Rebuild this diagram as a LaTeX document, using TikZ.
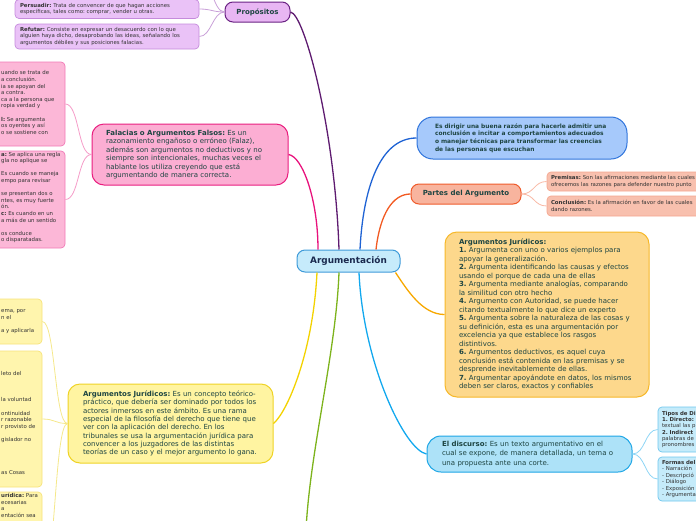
\documentclass[tikz,border=0pt]{standalone}
\usepackage{fontspec}
\setmainfont{DejaVu Sans}
\usetikzlibrary{arrows, positioning}
\frenchspacing

\definecolor{hubFill}{HTML}{C6EBFB}
\definecolor{hubLine}{HTML}{3E9BD9}
\definecolor{hubText}{HTML}{1B2A4F}
\definecolor{topicText}{HTML}{1E4542}
\definecolor{leafText}{HTML}{333333}
\definecolor{propFill}{HTML}{E8B6F3}
\definecolor{propLine}{HTML}{6A2283}
\definecolor{propRama}{HTML}{5E1B70}
\definecolor{lilaFill}{HTML}{EAC2F7}
\definecolor{lilaLine}{HTML}{C58BDC}
\definecolor{lilaRama}{HTML}{C9A0D8}
\definecolor{falFill}{HTML}{FCAED3}
\definecolor{falLine}{HTML}{E91E7F}
\definecolor{falRama}{HTML}{E8127C}
\definecolor{rosaFill}{HTML}{FCB7D7}
\definecolor{rosaLine}{HTML}{F17AB7}
\definecolor{rosaRama}{HTML}{F59CC8}
\definecolor{azulFill}{HTML}{A6C9FB}
\definecolor{azulLine}{HTML}{2F74DC}
\definecolor{azulRama}{HTML}{1F63D4}
\definecolor{partFill}{HTML}{F8B49E}
\definecolor{partLine}{HTML}{EF5B2B}
\definecolor{partRama}{HTML}{F25A22}
\definecolor{salmFill}{HTML}{F8C0AE}
\definecolor{salmLine}{HTML}{F5A68F}
\definecolor{salmRama}{HTML}{F8B8A5}
\definecolor{juriFill}{HTML}{FDD88C}
\definecolor{juriLine}{HTML}{F6B82A}
\definecolor{juriRama}{HTML}{F7A800}
\definecolor{discFill}{HTML}{ADE2F8}
\definecolor{discLine}{HTML}{1EA6E6}
\definecolor{discRama}{HTML}{12A8EE}
\definecolor{celeFill}{HTML}{C5EBFA}
\definecolor{celeLine}{HTML}{6FC7EE}
\definecolor{celeRama}{HTML}{8ED5F5}
\definecolor{amarFill}{HTML}{FFF4A1}
\definecolor{amarLine}{HTML}{EFD325}
\definecolor{amarRama}{HTML}{F3D200}
\definecolor{cremaFill}{HTML}{FFF5AD}
\definecolor{cremaLine}{HTML}{F7E37A}
\definecolor{cremaRama}{HTML}{F5E88A}
\definecolor{verdeRama}{HTML}{7DB31C}

\begin{document}
\begin{tikzpicture}[x=1pt,y=-1pt]
	\tikzstyle{hub} = [rectangle, rounded corners=8pt, draw=hubLine, fill=hubFill, line width=1pt, minimum width=103pt, minimum height=22pt, text=hubText, font=\fontsize{8.9}{10}\selectfont\bfseries]
	\tikzstyle{title} = [rectangle, rounded corners=8pt, line width=1pt, inner sep=0pt, text=topicText, font=\fontsize{7}{8}\selectfont\bfseries]
	\tikzstyle{topic} = [rectangle, rounded corners=12pt, line width=1pt, align=left, inner sep=0pt, text=topicText, font=\fontsize{7}{8.4}\selectfont]
	\tikzstyle{leaf} = [rectangle, rounded corners=4pt, line width=0.7pt, align=left, inner sep=0pt, text=leafText, font=\fontsize{5.4}{6.6}\selectfont]
	\tikzstyle{cut} = [inner sep=0pt, align=left, anchor=west, text=leafText, font=\fontsize{5.4}{6.6}\selectfont]
	\tikzstyle{branch} = [line width=1.3pt]
	\tikzstyle{twig} = [line width=0.8pt]

	\useasboundingbox (0,0) rectangle (696,520);
	\clip (0,0) rectangle (696,520);

	% centro
	\node (arg) [hub] at (348.5,261) {Argumentación};

	% propositos
	\node (prop) [title, fill=propFill, draw=propLine, minimum width=65pt, minimum height=20pt] at (257.5,12) {Propósitos};
	\node (pers) [leaf, fill=lilaFill, draw=lilaLine, minimum width=184pt, minimum height=19pt, text width=174pt] at (107,9) {\textbf{Persuadir:} Trata de convencer de que hagan acciones\\específicas, tales como: comprar, vender u otras.};
	\node (refu) [leaf, fill=lilaFill, draw=lilaLine, minimum width=184pt, minimum height=25pt, text width=174pt] at (107,36.5) {\textbf{Refutar:} Consiste en expresar un desacuerdo con lo que\\alguien haya dicho, desaprobando las ideas, señalando los\\argumentos débiles y sus posiciones falacias.};
	\coordinate (pHid) at (199,-25);

	% falacias
	\node (fal) [topic, fill=falFill, draw=falLine, minimum width=196pt, minimum height=61pt, text width=168pt] at (190,154.5) {\textbf{Falacias o Argumentos Falsos:} Es un\\razonamiento engañoso o erróneo (Falaz),\\además son argumentos no deductivos y no\\siempre son intencionales, muchas veces el\\hablante los utiliza creyendo que está\\argumentando de manera correcta.};
	\node (falA) [leaf, fill=rosaFill, draw=rosaLine, minimum width=75pt, minimum height=84pt] at (27.5,104) {};
	\node (falAt) [cut] at (1,102.5) {uando se trata de\\a conclusión.\\ia se apoyan del\\a contra.\\ca a la persona que\\ropia verdad y\\[6.6pt]\textbf{l:} Se argumenta\\os oyentes y así\\o se sostiene con};
	\node (falB) [leaf, fill=rosaFill, draw=rosaLine, minimum width=75pt, minimum height=97pt] at (27.5,199.5) {};
	\node (falBt) [cut] at (1,197.5) {\textbf{a:} Se aplica una regla\\gla no aplique se\\[6.6pt]Es cuando se maneja\\empo para revisar\\[6.6pt]se presentan dos o\\ntes, es muy fuerte\\ón.\\\textbf{c:} Es cuando en un\\a más de un sentido\\[6.6pt]os conduce\\o disparatadas.};

	% definicion
	\node (def) [topic, rounded corners=16pt, fill=azulFill, draw=azulLine, minimum width=210pt, minimum height=42pt, text width=174pt, font=\fontsize{5.9}{7.7}\selectfont\bfseries] at (522,138) {Es dirigir una buena razón para hacerle admitir una\\conclusión e incitar a comportamientos adecuados\\o manejar técnicas para transformar las creencias\\de las personas que escuchan};

	% partes
	\node (part) [title, fill=partFill, draw=partLine, minimum width=110pt, minimum height=20pt] at (466,194) {Partes del Argumento};
	\node (prem) [leaf, fill=salmFill, draw=salmLine, minimum width=178pt, minimum height=19pt, text width=170pt] at (636,181.5) {\textbf{Premisas:} Son las afirmaciones mediante las cuales\\ofrecemos las razones para defender nuestro punto};
	\node (conc) [leaf, fill=salmFill, draw=salmLine, minimum width=178pt, minimum height=20pt, text width=170pt] at (636,206) {\textbf{Conclusión:} Es la afirmación en favor de las cuales\\dando razones.};

	% argumentos juridicos (tipos)
	\node (juriR) [topic, fill=juriFill, draw=juriLine, minimum width=204pt, minimum height=165pt, text width=176pt, font=\fontsize{7}{8.5}\selectfont] at (547,314.5) {\textbf{Argumentos Jurídicos:}\\\textbf{1.} Argumenta con uno o varios ejemplos para\\apoyar la generalización.\\\textbf{2.} Argumenta identificando las causas y efectos\\usando el porque de cada una de ellas\\\textbf{3.} Argumenta mediante analogías, comparando\\la similitud con otro hecho\\\textbf{4.} Argumento con Autoridad, se puede hacer\\citando textualmente lo que dice un experto\\\textbf{5.} Argumenta sobre la naturaleza de las cosas y\\su definición, esta es una argumentación por\\excelencia ya que establece los rasgos\\distintivos.\\\textbf{6.} Argumentos deductivos, es aquel cuya\\conclusión está contenida en las premisas y se\\desprende inevitablemente de ellas.\\\textbf{7.} Argumentar apoyándote en datos, los mismos\\deben ser claros, exactos y confiables};

	% discurso
	\node (disc) [topic, rounded corners=14pt, fill=discFill, draw=discLine, minimum width=205pt, minimum height=36pt, text width=175pt, font=\fontsize{7}{9.5}\selectfont] at (529.5,454) {\textbf{El discurso:} Es un texto argumentativo en el\\cual se expone, de manera detallada, un tema o\\una propuesta ante una corte.};
	\node (tipo) [leaf, fill=celeFill, draw=celeLine, minimum width=72pt, minimum height=45pt, text width=64pt, font=\fontsize{5.4}{6.3}\selectfont] at (694,429.5) {\textbf{Tipos de Di}\\\textbf{1. Directo:}\\textual las p\\\textbf{2. Indirect}\\palabras de\\pronombres};
	\node (form) [leaf, fill=celeFill, draw=celeLine, minimum width=72pt, minimum height=44pt, text width=64pt, font=\fontsize{5.4}{6.4}\selectfont] at (694,479) {\textbf{Formas del}\\- Narración\\- Descripció\\- Diálogo\\- Exposición\\- Argumenta};

	% argumentos juridicos (concepto)
	\node (juriL) [topic, fill=amarFill, draw=amarLine, minimum width=205pt, minimum height=79pt, text width=175pt, font=\fontsize{7}{8.3}\selectfont] at (170.5,423.5) {\textbf{Argumentos Jurídicos:} Es un concepto teórico-\\práctico, que debería ser dominado por todos los\\actores inmersos en este ámbito. Es una rama\\especial de la filosofía del derecho que tiene que\\ver con la aplicación del derecho. En los\\tribunales se usa la argumentación jurídica para\\convencer a los juzgadores de las distintas\\teorías de un caso y el mejor argumento lo gana.};
	\node (yC) [leaf, fill=cremaFill, draw=cremaLine, minimum width=52pt, minimum height=45pt] at (16,321.5) {};
	\node (yCt) [cut] at (1,321.5) {ema, por\\n el\\[6.6pt]a y aplicarla};
	\node (yD) [leaf, fill=cremaFill, draw=cremaLine, minimum width=52pt, minimum height=136pt] at (16,419) {};
	\node (yDt) [cut] at (1,423) {leto del\\[19.8pt]la voluntad\\[6.6pt]ontinuidad\\r razonable\\r provisto de\\[6.6pt]gislador no\\[26.4pt]as Cosas};
	\node (yE) [leaf, fill=cremaFill, draw=cremaLine, minimum width=52pt, minimum height=176pt] at (16,580) {};
	\node (yEt) [cut] at (1,505.5) {\textbf{urídica:} Para\\ecesarias\\a\\entación sea};

	\coordinate (gEnd) at (306,530);

	% ramas principales
	\draw [branch, propRama] (prop.east) .. controls +(14,2) and +(-4,-120) .. ([xshift=-9.5pt]arg.north);
	\draw [branch, falRama] (fal.east) .. controls +(14,2) and +(0,-50) .. ([xshift=-30.5pt]arg.north);
	\draw [branch, azulRama] ([xshift=11.5pt]arg.north) .. controls +(3,-60) and +(-37,0) .. (def.west);
	\draw [branch, partRama] ([xshift=27.5pt]arg.north) .. controls +(4,-35) and +(-18,0) .. (part.west);
	\draw [branch, juriRama] ([xshift=-5pt]arg.south east) .. controls +(12,18) and +(-22,0) .. (juriR.west);
	\draw [branch, discRama] ([xshift=10.5pt]arg.south) .. controls +(4,90) and +(-22,-4) .. (disc.west);
	\draw [branch, amarRama] ([xshift=-31.5pt]arg.south) .. controls +(-4,80) and +(14,-12) .. (juriL.east);
	\draw [branch, verdeRama] ([xshift=-9.5pt]arg.south) .. controls +(-3,80) and +(4,-80) .. (gEnd);

	% ramas secundarias
	\draw [twig, lilaRama] (prop.west) .. controls +(-12,0) and +(12,0) .. (pHid);
	\draw [twig, lilaRama] (prop.west) .. controls +(-12,0) and +(12,0) .. (pers.east);
	\draw [twig, lilaRama] (prop.west) .. controls +(-12,0) and +(12,0) .. (refu.east);
	\draw [twig, rosaRama] (fal.west) .. controls +(-14,0) and +(14,0) .. (falA.east);
	\draw [twig, rosaRama] (fal.west) .. controls +(-14,0) and +(14,0) .. (falB.east);
	\draw [twig, salmRama] (part.east) .. controls +(13,0) and +(-13,0) .. (prem.west);
	\draw [twig, salmRama] (part.east) .. controls +(13,0) and +(-13,0) .. (conc.west);
	\draw [twig, celeRama] (disc.east) .. controls +(13,0) and +(-13,0) .. (tipo.west);
	\draw [twig, celeRama] (disc.east) .. controls +(13,0) and +(-13,0) .. (form.west);
	\draw [twig, cremaRama] (juriL.west) .. controls +(-13,0) and +(13,0) .. (yC.east);
	\draw [twig, cremaRama] (juriL.west) .. controls +(-13,0) and +(13,0) .. (yD.east);
	\draw [twig, cremaRama] (juriL.west) .. controls +(-13,0) and +(13,0) .. (yE.east);
\end{tikzpicture}
\end{document}
